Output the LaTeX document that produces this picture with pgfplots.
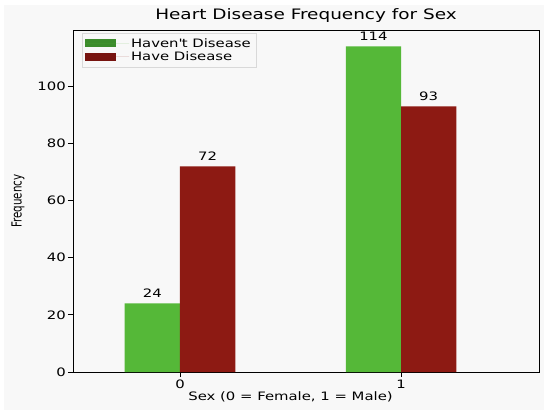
\documentclass[border=0pt]{standalone}
\usepackage{pgfplots}
\pgfplotsset{compat=1.18}
\usepackage{fontspec}
\setmainfont{DejaVu Sans}[FakeStretch=1.28]
\newfontfamily\plainfont{DejaVu Sans}
\pgfdeclarelayer{background}
\pgfsetlayers{background,main}

\definecolor{barG}{HTML}{55B838}
\definecolor{barR}{HTML}{8D1A13}
\definecolor{legG}{HTML}{3C8C2C}
\definecolor{legR}{HTML}{771410}
\definecolor{bgGray}{HTML}{F8F8F8}

\begin{document}
\begin{tikzpicture}
\begin{axis}[
    name=ax,
    scale only axis,
    width=466bp, height=342bp,
    xmin=-0.484, xmax=1.624,
    ymin=0, ymax=119.7,
    xtick={0,1},
    ytick={0,20,40,60,80,100},
    tick align=outside,
    major tick length=5bp,
    xtick pos=bottom, ytick pos=left,
    axis line style={black, line width=0.8bp},
    tick style={black, line width=0.8bp},
    /pgf/number format/assume math mode=true,
    ticklabel style={font=\fontsize{11.6bp}{13bp}\selectfont},
    xticklabel style={inner sep=0pt, yshift=-3bp},
    yticklabel style={inner sep=0pt, xshift=-2bp},
    axis background/.style={fill=bgGray},
    title={Heart Disease Frequency for Sex},
    title style={font=\fontsize{14.4bp}{16bp}\selectfont, at={(0.5,1)}, anchor=base, yshift=5bp, inner sep=0pt},
    xlabel={Sex (0 = Female, 1 = Male)},
    every axis x label/.style={at={(axis cs:0.5,0)}, anchor=base, yshift=-28.7bp, inner sep=0pt, font=\fontsize{11.6bp}{13bp}\selectfont},
    ylabel={\plainfont\fontsize{10.3bp}{11bp}\selectfont\scalebox{1}[1.35]{Frequency}},
    every axis y label/.style={at={(rel axis cs:-0.118,0.5)}, rotate=90, anchor=center, inner sep=0pt},
    ybar,
    bar width=0.25,
    nodes near coords,
    every node near coord/.append style={anchor=base, inner sep=0pt, yshift=6bp, black, font=\fontsize{11.6bp}{13bp}\selectfont},
    legend style={at={(rel axis cs:0.019,0.991)}, anchor=north west, draw=black!15, fill=bgGray,
        font=\fontsize{11.6bp}{13bp}\selectfont, row sep=-1bp, inner sep=3bp},
    legend cell align=left,
]
\addplot[fill=barG, draw=none, bar shift=-0.125,
    legend image code/.code={\fill[legG] (0bp,-4bp) rectangle (31bp,4bp); \path (0bp,0bp) -- (44bp,0bp);}]
    coordinates {(0,24) (1,114)};
\addlegendentry{Haven\textquotesingle t Disease}
\addplot[fill=barR, draw=none, bar shift=0.125,
    legend image code/.code={\fill[legR] (0bp,-4bp) rectangle (31bp,4bp); \path (0bp,0bp) -- (44bp,0bp);}]
    coordinates {(0,72) (1,93)};
\addlegendentry{Have Disease}
\end{axis}
\begin{pgfonlayer}{background}
\fill[white] ([xshift=-73bp,yshift=-44bp]ax.south west) rectangle ([xshift=11bp,yshift=30bp]ax.north east);
\fill[bgGray] ([xshift=-69bp,yshift=-38bp]ax.south west) rectangle ([xshift=5bp,yshift=25bp]ax.north east);
\end{pgfonlayer}
\end{tikzpicture}
\end{document}
